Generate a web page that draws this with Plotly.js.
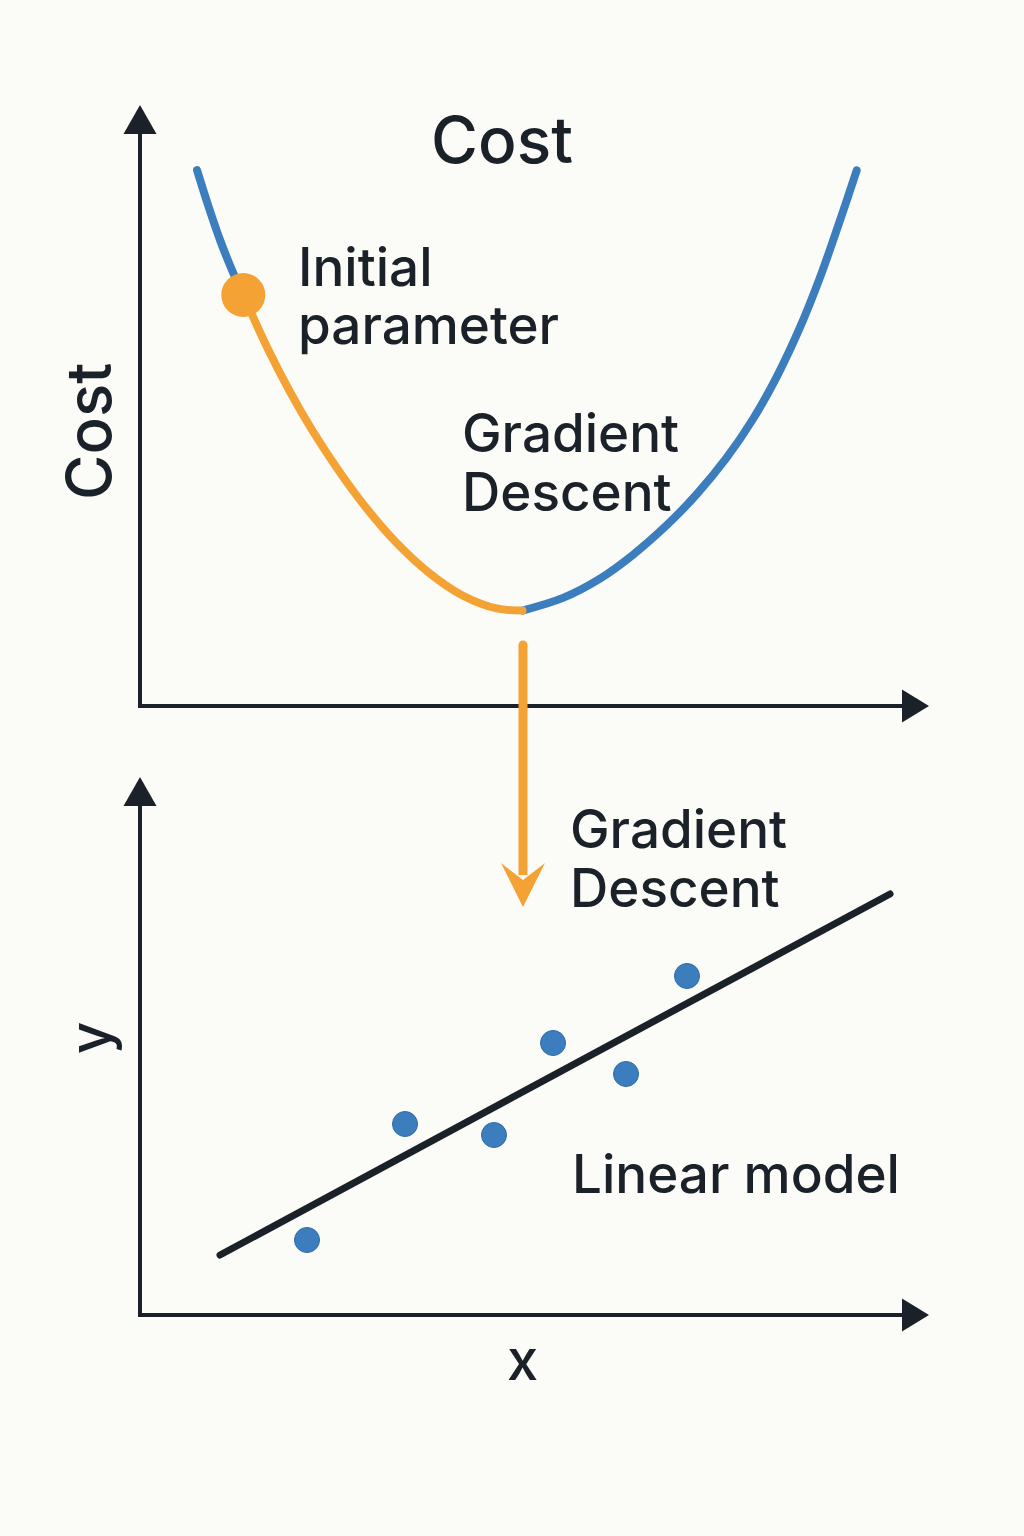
<!DOCTYPE html>
<html>
<head>
<meta charset="utf-8">
<script src="https://cdn.plot.ly/plotly-3.0.1.min.js"></script>
<style>
  html, body { margin: 0; padding: 0; background: #fbfbf7; }
  #chart { width: 1024px; height: 1536px; }
  .js-line { stroke-linecap: round; stroke-linejoin: round; }
</style>
</head>
<body>
<div id="chart"></div>
<script>
// ---------- Data: cost curve (parameter vs cost) ----------
const thetaLeftBlue  = [0.719, 0.863, 1.020, 1.176, 1.324];
const costLeftBlue   = [9.352, 8.739, 8.126, 7.601, 7.163];
const thetaDescent   = [1.324, 1.630, 1.935, 2.235, 2.588, 2.937, 3.329, 3.765, 4.196, 4.637, 4.974];
const costDescent    = [7.163, 6.261, 5.466, 4.772, 4.054, 3.424, 2.820, 2.284, 1.897, 1.673, 1.637];
const thetaRightBlue = [4.974, 5.503, 5.987, 6.418, 6.859, 7.251, 7.643, 7.987, 8.297, 8.601, 8.863, 9.124, 9.342];
const costRightBlue  = [1.637, 1.858, 2.196, 2.613, 3.131, 3.673, 4.314, 4.991, 5.730, 6.595, 7.471, 8.470, 9.345];
const initialTheta   = [1.324];
const initialCost    = [7.163];

// ---------- Data: linear regression ----------
const dataX  = [2.157, 3.438, 4.601, 5.373, 6.327, 7.124];
const dataY  = [1.437, 3.720, 3.504, 5.315, 4.705, 6.634];
const modelX = [1.020, 9.778];
const modelY = [1.142, 8.248];

// ---------- Text ----------
const titleText   = 'Cost';
const costLabel   = 'Cost';
const initLines   = ['Initial', 'parameter'];
const gdLines     = ['Gradient', 'Descent'];
const modelLabel  = 'Linear model';
const xLabel      = 'x';
const yLabel      = 'y';

// ---------- Styling / layout constants ----------
const W = 1024, H = 1536;
const BG = '#fbfbf7', INK = '#1b2128', BLUE = '#3b7dbd', ORANGE = '#f5a234';
const FONT = 'Inter, "Noto Sans", sans-serif';
const px = v => v / W;
const py = v => 1 - v / H;
const P = (a, b) => `${px(a)} ${py(b)}`;

const TOP = { l: 142, r: 907, t: 133, b: 704 };
const BOT = { l: 142, r: 907, t: 805, b: 1313 };

const axisCommon = {
  showgrid: false, zeroline: false, showticklabels: false, ticks: '',
  showline: true, linecolor: INK, linewidth: 4, fixedrange: true
};

const traces = [
  { x: thetaLeftBlue, y: costLeftBlue, xaxis: 'x', yaxis: 'y', mode: 'lines',
    line: { color: BLUE, width: 8, shape: 'spline', smoothing: 1 }, hoverinfo: 'skip' },
  { x: thetaRightBlue, y: costRightBlue, xaxis: 'x', yaxis: 'y', mode: 'lines',
    line: { color: BLUE, width: 8, shape: 'spline', smoothing: 1 }, hoverinfo: 'skip' },
  { x: thetaDescent, y: costDescent, xaxis: 'x', yaxis: 'y', mode: 'lines',
    line: { color: ORANGE, width: 8, shape: 'spline', smoothing: 1 }, hoverinfo: 'skip' },
  { x: initialTheta, y: initialCost, xaxis: 'x', yaxis: 'y', mode: 'markers',
    marker: { color: ORANGE, size: 44, line: { width: 0 } }, hoverinfo: 'skip' },
  { x: modelX, y: modelY, xaxis: 'x2', yaxis: 'y2', mode: 'lines',
    line: { color: INK, width: 7 }, hoverinfo: 'skip' },
  { x: dataX, y: dataY, xaxis: 'x2', yaxis: 'y2', mode: 'markers',
    marker: { color: BLUE, size: 25, line: { width: 1, color: '#2f6aa6' } }, hoverinfo: 'skip' }
];

function ann(text, x, y, size, opts) {
  return Object.assign({
    text: text, xref: 'paper', yref: 'paper', x: px(x), y: py(y),
    xanchor: 'left', yanchor: 'middle', showarrow: false,
    font: { family: FONT, size: size, color: INK, weight: 500 }
  }, opts || {});
}

const annotations = [
  ann(initLines[0], 296, 267, 53),
  ann(initLines[1], 296, 325, 53),
  ann(gdLines[0], 460, 433, 53),
  ann(gdLines[1], 460, 491.5, 53),
  ann(gdLines[0], 568, 829, 53),
  ann(gdLines[1], 568, 887.5, 53),
  ann(modelLabel, 570, 1174, 53),
  ann(costLabel, 88, 432, 62, { xanchor: 'center', textangle: -90 }),
  ann(yLabel, 90, 1038, 56, { xanchor: 'center', textangle: -90 }),
  ann(xLabel, 522, 1360, 56, { xanchor: 'center' })
];

const tri = pts => 'M ' + pts.map(p => P(p[0], p[1])).join(' L ') + ' Z';
const shapeFill = (path) => ({ type: 'path', xref: 'paper', yref: 'paper', path: path,
  fillcolor: INK, line: { width: 0 } });

const shapes = [
  // axis arrowheads
  shapeFill(tri([[123.5, 134], [156.5, 134], [140, 105]])),
  shapeFill(tri([[902, 689.5], [902, 722.5], [929, 706]])),
  shapeFill(tri([[123.5, 806], [156.5, 806], [140, 777]])),
  shapeFill(tri([[902, 1298.5], [902, 1331.5], [929, 1315]])),
  // orange gradient-descent arrow
  { type: 'line', xref: 'paper', yref: 'paper', x0: px(523), x1: px(523), y0: py(645), y1: py(875),
    line: { color: ORANGE, width: 9 } },
  { type: 'circle', xref: 'paper', yref: 'paper', x0: px(518.5), x1: px(527.5), y0: py(640.5), y1: py(649.5),
    fillcolor: ORANGE, line: { width: 0 } },
  { type: 'path', xref: 'paper', yref: 'paper', fillcolor: ORANGE, line: { width: 0 },
    path: tri([[501, 863], [523, 880], [545, 863], [523, 907]]) }
];

const layout = {
  width: W, height: H,
  margin: { l: 0, r: 0, t: 0, b: 0, pad: 0 },
  paper_bgcolor: BG, plot_bgcolor: BG,
  showlegend: false,
  font: { family: FONT, color: INK },
  title: { text: titleText, x: px(502), xanchor: 'center', y: py(141), yanchor: 'middle',
    xref: 'paper', yref: 'paper', font: { family: FONT, size: 64, color: INK, weight: 500 } },
  xaxis:  Object.assign({}, axisCommon, { domain: [px(TOP.l), px(TOP.r)], range: [0, 10], anchor: 'y' }),
  yaxis:  Object.assign({}, axisCommon, { domain: [py(TOP.b), py(TOP.t)], range: [0, 10], anchor: 'x' }),
  xaxis2: Object.assign({}, axisCommon, { domain: [px(BOT.l), px(BOT.r)], range: [0, 10], anchor: 'y2' }),
  yaxis2: Object.assign({}, axisCommon, { domain: [py(BOT.b), py(BOT.t)], range: [0, 10], anchor: 'x2' }),
  annotations: annotations,
  shapes: shapes
};

Plotly.newPlot('chart', traces, layout, { displayModeBar: false, staticPlot: true });
</script>
</body>
</html>
